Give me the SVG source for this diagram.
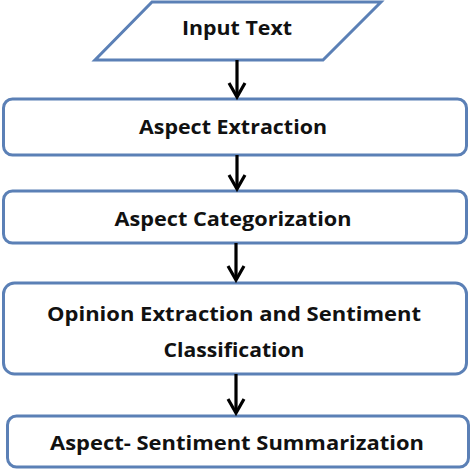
<svg xmlns="http://www.w3.org/2000/svg" width="474" height="470" viewBox="0 0 474 470">
<style>
.box{fill:#ffffff;stroke:#5b80b6;stroke-width:3}
.lbl{font-family:"Open Sans",Lato,"Liberation Sans",sans-serif;font-weight:700;font-size:20px;fill:#111111;text-anchor:middle}
.conn line,.conn polyline{fill:none;stroke:#000000;stroke-width:3.2}
</style>
<rect width="474" height="470" fill="#ffffff"/>
<g id="input-text">
<polygon class="box" points="152,2 381,2 323,60 95,60"/>
<text class="lbl" x="237" y="35" textLength="110" lengthAdjust="spacingAndGlyphs">Input Text</text>
</g>
<g id="aspect-extraction">
<rect class="box" x="3.5" y="99" width="463" height="56" rx="9"/>
<text class="lbl" x="233" y="134" textLength="188" lengthAdjust="spacingAndGlyphs">Aspect Extraction</text>
</g>
<g id="aspect-categorization">
<rect class="box" x="3.5" y="191" width="463" height="52" rx="9"/>
<text class="lbl" x="233" y="226" textLength="237" lengthAdjust="spacingAndGlyphs">Aspect Categorization</text>
</g>
<g id="opinion-extraction">
<rect class="box" x="3.5" y="283" width="463" height="91" rx="11"/>
<text class="lbl" x="234" y="321" textLength="374" lengthAdjust="spacingAndGlyphs">Opinion Extraction and Sentiment</text>
<text class="lbl" x="234" y="357" textLength="141" lengthAdjust="spacingAndGlyphs">Classification</text>
</g>
<g id="summarization">
<rect class="box" x="7.5" y="416" width="461" height="51" rx="9"/>
<text class="lbl" x="237" y="450" textLength="374" lengthAdjust="spacingAndGlyphs">Aspect- Sentiment Summarization</text>
</g>
<g class="conn" id="connectors">
<line x1="237" y1="60" x2="237" y2="97"/>
<polyline points="229,83 237,97 245,83"/>
<line x1="237" y1="155" x2="237" y2="189"/>
<polyline points="229,175 237,189 245,175"/>
<line x1="236" y1="243" x2="236" y2="280"/>
<polyline points="228,266 236,280 244,266"/>
<line x1="236" y1="374" x2="236" y2="413"/>
<polyline points="228,399 236,413 244,399"/>
</g>
</svg>
